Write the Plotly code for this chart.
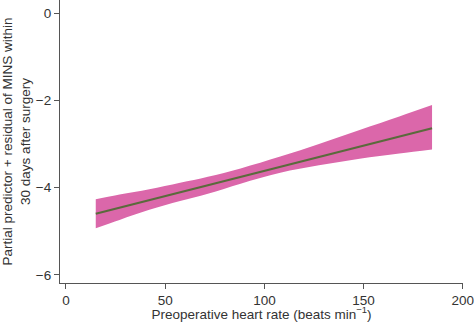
import plotly.graph_objects as go

heart_rate = [15, 27, 42, 57.5, 71.5, 88, 108, 127.5, 148, 168, 184.5]
fit = [-4.60, -4.46, -4.29, -4.11, -3.95, -3.76, -3.53, -3.30, -3.06, -2.83, -2.64]
ci_low = [-4.93, -4.74, -4.51, -4.31, -4.14, -3.91, -3.66, -3.49, -3.34, -3.22, -3.13]
ci_high = [-4.27, -4.16, -4.04, -3.89, -3.75, -3.56, -3.29, -3.00, -2.68, -2.37, -2.11]

x_ticks = [0, 50, 100, 150, 200]
y_ticks = [0, -2, -4, -6]

FONT = "Liberation Sans, Arial, sans-serif"

fig = go.Figure()
fig.add_trace(go.Scatter(x=heart_rate, y=ci_low, mode="lines", line=dict(width=0, color="#DB67AA", shape="spline"),
                         showlegend=False, hoverinfo="skip"))
fig.add_trace(go.Scatter(x=heart_rate, y=ci_high, mode="lines", line=dict(width=0, color="#DB67AA", shape="spline"),
                         fill="tonexty", fillcolor="#DB67AA", showlegend=False, hoverinfo="skip"))
fig.add_trace(go.Scatter(x=heart_rate, y=fit, mode="lines", line=dict(width=2.2, color="#5A6A3C"),
                         showlegend=False))

axis_common = dict(showgrid=False, zeroline=False, showline=True, linecolor="#555555", linewidth=1.2,
                   ticks="outside", ticklen=5, tickcolor="#555555", tickwidth=1,
                   ticklabeloverflow="allow",
                   tickfont=dict(family=FONT, size=13.5, color="#333333"))

fig.update_layout(
    width=474, height=322,
    margin=dict(l=60, r=11, t=0, b=39),
    paper_bgcolor="white", plot_bgcolor="white",
    xaxis=dict(range=[-3.02, 200.1], tickvals=x_ticks,
               title=dict(text="Preoperative heart rate (beats min<sup>−1</sup>)", standoff=3,
                          font=dict(family=FONT, size=13.5, color="#333333")),
               **axis_common),
    yaxis=dict(range=[-6.186, 0.298], tickvals=y_ticks,
               title=dict(text="Partial predictor + residual of MINS within<br>30 days after surgery", standoff=5,
                          font=dict(family=FONT, size=13.5, color="#333333")),
               **axis_common),
)

fig.write_html("out.html")
